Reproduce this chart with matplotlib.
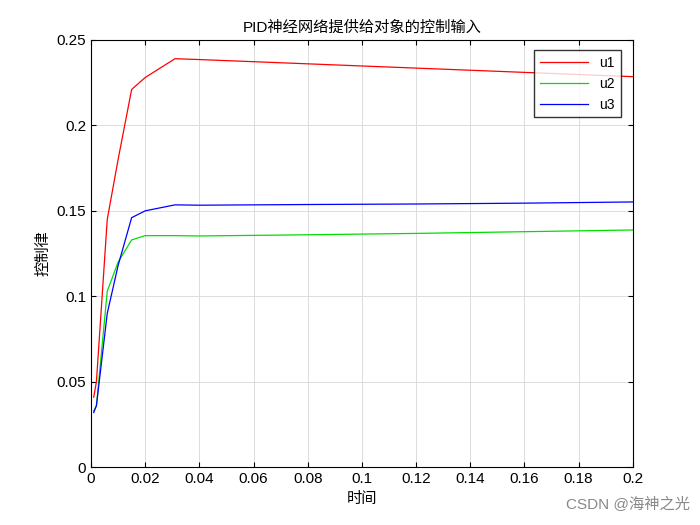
import matplotlib
matplotlib.use("Agg")
import matplotlib.pyplot as plt

plt.rcParams["font.family"] = ["Liberation Sans", "Noto Sans CJK SC", "DejaVu Sans"]

t = [0.001, 0.002, 0.006, 0.010, 0.015, 0.020, 0.031, 0.040, 0.080, 0.120, 0.160, 0.200]
u1 = [0.041, 0.050, 0.145, 0.180, 0.221, 0.228, 0.239, 0.2385, 0.2360, 0.2335, 0.2310, 0.2285]
u2 = [0.033, 0.036, 0.103, 0.120, 0.133, 0.1355, 0.1355, 0.1353, 0.1360, 0.1368, 0.1378, 0.1388]
u3 = [0.032, 0.036, 0.090, 0.118, 0.146, 0.150, 0.1535, 0.1533, 0.1537, 0.1540, 0.1545, 0.1552]

fig = plt.figure(figsize=(7, 5.25), dpi=100)
ax = fig.add_axes([0.13, 0.11, 0.774, 0.814])
ax.plot(t, u1, color="#ff0000", lw=0.9, label="u1")
ax.plot(t, u2, color="#00dd00", lw=0.9, label="u2")
ax.plot(t, u3, color="#0000ff", lw=0.9, label="u3")
ax.set_xlim(0, 0.2)
ax.set_ylim(0, 0.25)
ax.set_xticks([i * 0.02 for i in range(11)])
ax.set_xticklabels(["0", "0.02", "0.04", "0.06", "0.08", "0.1", "0.12", "0.14", "0.16", "0.18", "0.2"])
ax.set_yticks([0, 0.05, 0.1, 0.15, 0.2, 0.25])
ax.set_yticklabels(["0", "0.05", "0.1", "0.15", "0.2", "0.25"])
ax.tick_params(labelsize=11, direction="in", top=True, right=True)
ax.grid(True, color="#dddddd", lw=0.7)
ax.set_xlabel("时间", fontsize=11)
ax.set_ylabel("控制律", fontsize=11)
ax.set_title("PID神经网络提供给对象的控制输入", fontsize=11)
ax.legend(loc="upper right", fontsize=10, fancybox=False, edgecolor="black",
          bbox_to_anchor=(0.985, 0.985), handlelength=3.5, borderaxespad=0.3)
fig.text(0.985, 0.025, "CSDN @海神之光", ha="right", va="bottom", fontsize=11, color="#888888")
fig.savefig("out.png")
